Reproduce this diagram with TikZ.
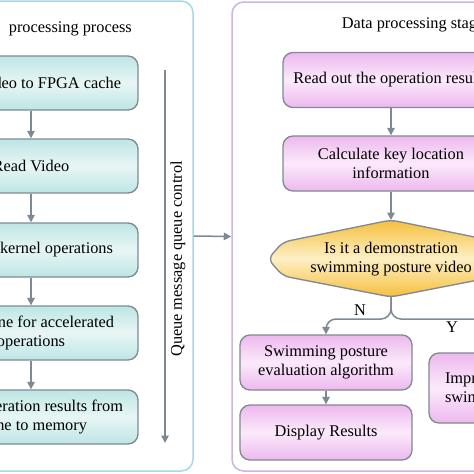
\documentclass[tikz,border=0pt]{standalone}
\usepackage{fontspec}
\setmainfont{Liberation Serif}
\usetikzlibrary{arrows.meta}

\definecolor{cyanline}{HTML}{A6D9E2}
\definecolor{purpline}{HTML}{CDB4E6}
\definecolor{edgegray}{HTML}{7F8A93}
\definecolor{arrgray}{HTML}{7D8A96}
\definecolor{cyanT}{HTML}{BDE6E4}
\definecolor{cyanM}{HTML}{E8F6F5}
\definecolor{pinkT}{HTML}{EDB8EE}
\definecolor{pinkM}{HTML}{FBEAFB}
\definecolor{yelT}{HTML}{F6BE3A}
\definecolor{yelM}{HTML}{FDF0C6}

\newlength{\pxu}\setlength{\pxu}{0.6pt}
\newcommand{\rtext}[2]{\makebox[#1\pxu][r]{#2}}
\newcommand{\mainsize}{\fontsize{9.8pt}{11.4pt}\selectfont}

\tikzset{
  panel/.style={rounded corners=7pt,line width=0.9pt},
  lbox/.style={draw=edgegray,line width=0.8pt,rounded corners=6pt,
    top color=cyanT,bottom color=cyanT,middle color=cyanM,
    minimum width=128.4pt,minimum height=32.4pt,align=center},
  pbox/.style={draw=edgegray,line width=0.8pt,rounded corners=6pt,
    top color=pinkT,bottom color=pinkT,middle color=pinkM,
    minimum height=33pt,align=center},
  arr/.style={draw=arrgray,line width=0.9pt,-{Triangle[length=4.5pt,width=4.5pt]}},
  yn/.style={fill=white,inner sep=1pt},
}

\begin{document}
\begin{tikzpicture}[x=0.6pt,y=-0.6pt,font=\mainsize]
    \useasboundingbox (0,0) rectangle (474,474);
    \clip (0,0) rectangle (474,474);
    \fill[white] (0,0) rectangle (474,474);

    % 两个区域
    \node[panel,draw=cyanline,minimum width=247.8pt,minimum height=282pt] (lpanel) at (-13.5,236) {};
    \node[panel,draw=purpline,minimum width=280.8pt,minimum height=281.4pt] (rpanel) at (466,236.5) {};
    \node[anchor=west] (ltitle) at (3,29) {processing process};
    \node[anchor=west] (rtitle) at (336,25) {Data processing stage};

    % 左侧流程
    \node[lbox] (cache) at (31,83) {\rtext{180}{deo to FPGA cache}};
    \node[lbox] (readv) at (31,166) {Read Video};
    \node[lbox] (kernel) at (31,250) {\rtext{164}{kernel operations}};
    \node[lbox] (accel) at (31,333) {\rtext{166}{ne for accelerated}\\operations};
    \node[lbox] (tomem) at (31,417) {\rtext{184}{eration results from}\\\rtext{112}{ne to memory}};
    \draw[arr] (cache) -- (readv);
    \draw[arr] (readv) -- (kernel);
    \draw[arr] (kernel) -- (accel);
    \draw[arr] (accel) -- (tomem);

    % 队列控制
    \coordinate (qtop) at (165,70);
    \coordinate (qend) at (165,443);
    \draw[arr] (qtop) -- (qend);
    \node[rotate=90] (queue) at (178,259) {Queue message queue control};
    \draw[arr] (lpanel.east) -- (rpanel.west);

    % 右侧流程
    \node[pbox,minimum width=129.6pt] (readout) at (391,80) {Read out the operation results};
    \node[pbox,minimum width=129.6pt] (keyloc) at (391,163.5) {Calculate key location\\information};

    % 判断框
    \coordinate (dtop) at (391,220);
    \coordinate (dbot) at (391,297);
    \draw[draw=edgegray,line width=0.8pt,rounded corners=4pt,top color=yelT,bottom color=yelT,middle color=yelM]
      (dtop) -- (283,242) -- (268,259) -- (283,276) -- (dbot) -- (499,276) -- (514,259) -- (499,242) -- cycle;
    \node[align=center] (judge) at (391,259) {Is it a demonstration\\swimming posture video};
    \draw[arr] (readout) -- (keyloc);
    \draw[arr] (keyloc) -- (dtop);

    % 分支
    \node[pbox,minimum width=103.2pt] (evalg) at (326,362.5) {Swimming posture\\evaluation algorithm};
    \node[pbox,minimum width=103.2pt] (disp) at (326,432.5) {Display Results};
    \node[pbox,minimum height=42pt,text width=84pt,inner xsep=9.6pt,align=left] (impr) at (515,388) {Impr\\swim};
    \draw[arr,rounded corners=6pt] (dbot) -- ++(0,22) -| (evalg.north);
    \draw[arr,rounded corners=6pt] (dbot) -- ++(0,22) -| (impr.north);
    \draw[arr] (evalg) -- (disp);
    \node[yn] (nlab) at (360,310) {N};
    \node[yn] (ylab) at (452,327) {Y};
\end{tikzpicture}
\end{document}
